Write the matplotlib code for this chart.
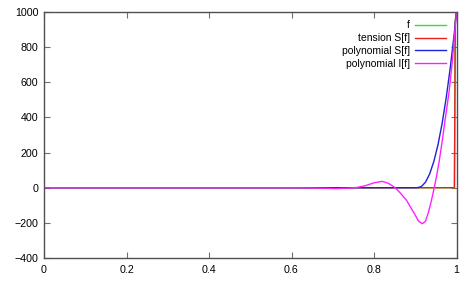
import matplotlib
matplotlib.use("Agg")
import matplotlib.pyplot as plt
from matplotlib.lines import Line2D

plt.rcParams['font.family'] = ['Liberation Sans', 'DejaVu Sans']

# data
f_x = [0.0, 0.995, 0.997, 1.0]
f_y = [0, 0, 950, 1000]

tension_x = [0.0, 0.995, 0.997, 1.0]
tension_y = [0, 0, 950, 1000]

polyS_x = [0.0, 0.905, 0.915, 0.925, 0.935, 0.945, 0.955, 0.965, 0.975, 0.985, 0.995, 1.0]
polyS_y = [0, 0, 7, 32, 79, 149, 243, 364, 511, 685, 887, 1000]

polyI_x = [0.0, 0.60, 0.65, 0.68, 0.71, 0.74, 0.76, 0.78, 0.80, 0.82, 0.835, 0.85,
           0.863, 0.871, 0.879, 0.889, 0.899, 0.908, 0.917, 0.925, 0.932, 0.939,
           0.946, 0.952, 0.958, 0.965, 0.972, 0.982, 0.99, 1.0]
polyI_y = [0, 0, -1, -3, -5, -2, 2, 12, 28, 36, 25, 2,
           -28, -50, -72, -112, -152, -190, -205, -190, -140, -75,
           0, 70, 150, 260, 380, 545, 720, 1000]

labels = ['f', 'tension S[f]', 'polynomial S[f]', 'polynomial I[f]']
colors = ['#30e030', '#e82020', '#2020d8', '#ff20ff']

xticks = [0, 0.2, 0.4, 0.6, 0.8, 1]
xticklabels = ['0', '0.2', '0.4', '0.6', '0.8', '1']
yticks = [-400, -200, 0, 200, 400, 600, 800, 1000]

fig = plt.figure(figsize=(4.74, 2.84), dpi=100)
ax = fig.add_axes([44/474, 1-258/284, 412.5/474, 246/284])

series = [(f_x, f_y), (tension_x, tension_y), (polyS_x, polyS_y), (polyI_x, polyI_y)]
for (xs, ys), c in zip(series, colors):
    ax.plot(xs, ys, color=c, lw=1.0)

ax.set_xlim(0, 1)
ax.set_ylim(-400, 1000)
ax.set_xticks(xticks)
ax.set_xticklabels(xticklabels)
ax.set_yticks(yticks)
ax.tick_params(direction='in', length=4, width=0.8, color='#707070',
               top=True, right=True, labelsize=7.7, labelcolor='black')
ax.tick_params(axis='x', pad=5)
ax.tick_params(axis='y', pad=4)
for s in ax.spines.values():
    s.set_color('#505050')
    s.set_linewidth(1.0)

handles = [Line2D([0], [0], color=c, lw=1.0) for c in colors]
ax.legend(handles, labels, loc='upper right', bbox_to_anchor=(0.975, 0.966),
          frameon=False, markerfirst=False, fontsize=7.5, handlelength=3.0,
          handletextpad=0.5, labelspacing=0.27, borderpad=0, borderaxespad=0)

fig.savefig('out.png', dpi=100)
